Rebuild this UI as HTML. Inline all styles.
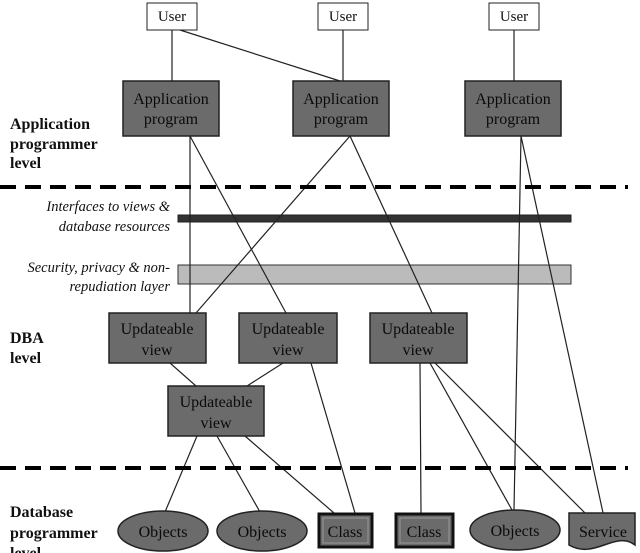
<!DOCTYPE html>
<html><head><style>body{margin:0;background:#fff}svg{display:block}</style></head><body>
<svg width="640" height="553" xmlns="http://www.w3.org/2000/svg" font-family="Liberation Serif, serif">
<rect x="178" y="215" width="393" height="7" fill="#333" stroke="#222"/>
<rect x="178" y="265" width="393" height="19" fill="#bbb" stroke="#333"/>
<g stroke="#222" stroke-width="1.2" fill="none">
<line x1="172" y1="30" x2="172" y2="81"/>
<line x1="180" y1="30" x2="340" y2="81"/>
<line x1="343" y1="30" x2="343" y2="81"/>
<line x1="514" y1="30" x2="514" y2="81"/>
<line x1="190" y1="136" x2="190" y2="313"/>
<line x1="190" y1="136" x2="286" y2="313"/>
<line x1="350" y1="136" x2="196" y2="313"/>
<line x1="350" y1="136" x2="432" y2="313"/>
<line x1="521" y1="136" x2="514" y2="510"/>
<line x1="521" y1="136" x2="605" y2="522"/>
<line x1="170" y1="363" x2="196" y2="386"/>
<line x1="283" y1="363" x2="247" y2="386"/>
<line x1="311" y1="363" x2="355" y2="513"/>
<line x1="420" y1="363" x2="421" y2="513"/>
<line x1="430" y1="363" x2="512" y2="510"/>
<line x1="435" y1="363" x2="594" y2="522"/>
<line x1="197" y1="436" x2="165" y2="512"/>
<line x1="217" y1="436" x2="260" y2="512"/>
<line x1="245" y1="436" x2="334" y2="513"/>
</g>
<g stroke="#000" stroke-width="4" stroke-dasharray="16,9">
<line x1="0" y1="187" x2="628" y2="187"/>
<line x1="0" y1="468" x2="628" y2="468"/>
</g>
<g fill="#fff" stroke="#222">
<rect x="147" y="3" width="50" height="27"/><rect x="318" y="3" width="50" height="27"/><rect x="489" y="3" width="50" height="27"/>
</g>
<g font-size="15" text-anchor="middle" fill="#111">
<text x="172" y="21">User</text><text x="343" y="21">User</text><text x="514" y="21">User</text>
</g>
<g fill="#6b6b6b" stroke="#222" stroke-width="1.5">
<rect x="123" y="81" width="96" height="55"/><rect x="293" y="81" width="96" height="55"/><rect x="465" y="81" width="96" height="55"/>
<rect x="109" y="313" width="97" height="50"/><rect x="239" y="313" width="98" height="50"/><rect x="370" y="313" width="97" height="50"/>
<rect x="168" y="386" width="96" height="50"/>
<ellipse cx="163" cy="531" rx="45" ry="20"/><ellipse cx="262" cy="531" rx="45" ry="20"/><ellipse cx="515" cy="530" rx="45" ry="20"/>
<path d="M569 513 H635 V545 C615 530 595 560 569 545 Z"/>
</g>
<g fill="#6b6b6b" stroke="#111" stroke-width="3">
<rect x="319" y="514" width="53" height="33"/><rect x="396" y="514" width="57" height="33"/>
</g>
<g fill="none" stroke="#999" stroke-width="1"><rect x="323" y="518" width="45" height="25"/><rect x="400" y="518" width="49" height="25"/></g>
<g font-size="16" text-anchor="middle" fill="#0a0a0a">
<text x="171" y="104">Application</text><text x="171" y="124">program</text>
<text x="341" y="104">Application</text><text x="341" y="124">program</text>
<text x="513" y="104">Application</text><text x="513" y="124">program</text>
<text x="157" y="334">Updateable</text><text x="157" y="355">view</text>
<text x="288" y="334">Updateable</text><text x="288" y="355">view</text>
<text x="418" y="334">Updateable</text><text x="418" y="355">view</text>
<text x="216" y="407">Updateable</text><text x="216" y="428">view</text>
<text x="163" y="537">Objects</text><text x="262" y="537">Objects</text><text x="515" y="536">Objects</text>
<text x="345" y="537">Class</text><text x="424" y="537">Class</text><text x="603" y="537">Service</text>
</g>
<g font-size="16" font-weight="bold" fill="#111">
<text x="10" y="129">Application</text><text x="10" y="149">programmer</text><text x="10" y="168">level</text>
<text x="10" y="343">DBA</text><text x="10" y="363">level</text>
<text x="10" y="517">Database</text><text x="10" y="538">programmer</text><text x="10" y="558">level</text>
</g>
<g font-size="14.5" font-style="italic" text-anchor="end" fill="#111">
<text x="170" y="211">Interfaces to views &amp;</text><text x="170" y="231">database resources</text>
<text x="170" y="272">Security, privacy &amp; non-</text><text x="170" y="291">repudiation layer</text>
</g>
</svg>
</body></html>
